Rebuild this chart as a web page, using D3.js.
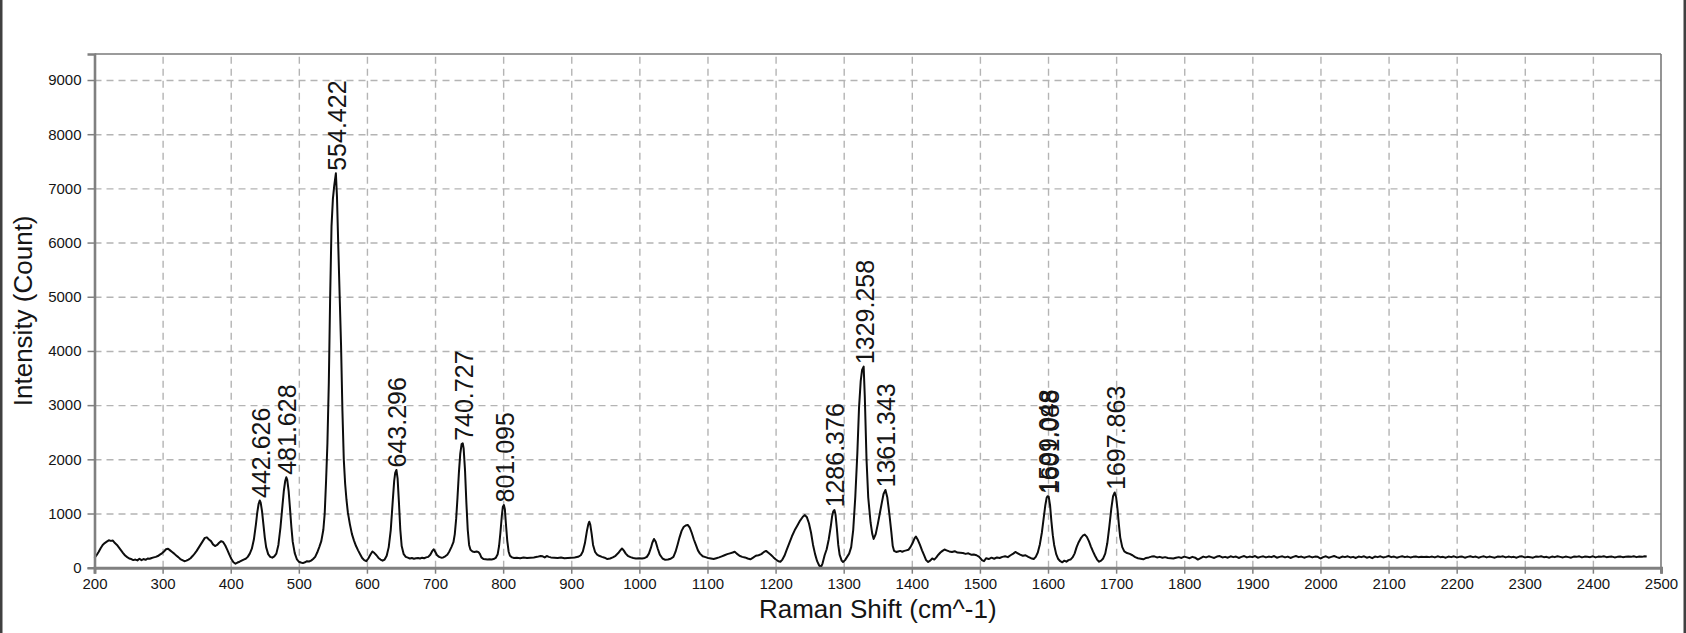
<!DOCTYPE html>
<html>
<head>
<meta charset="utf-8">
<script src="https://cdn.jsdelivr.net/npm/d3@7"></script>
<style>
  html, body { margin: 0; padding: 0; background: #fff; }
  svg { display: block; }
  text { font-family: "Liberation Sans", Arial, sans-serif; fill: #151515; }
</style>
</head>
<body>
<svg id="chart" width="1686" height="633"></svg>
<script>
// ---- Data ----
const xTicks = [200,300,400,500,600,700,800,900,1000,1100,1200,1300,1400,1500,1600,1700,1800,1900,2000,2100,2200,2300,2400,2500];
const yTicks = [0,1000,2000,3000,4000,5000,6000,7000,8000,9000];

const peakShifts    = [442.626, 481.628, 554.422, 643.296, 740.727, 801.095, 1286.376, 1329.258, 1361.343, 1599.048, 1601.088, 1697.863];
const peakIntensity = [1240, 1668, 7278, 1803, 2295, 1157, 1065, 3710, 1434, 1320, 1310, 1388];

// Spectrum: [Raman shift (cm^-1), intensity (count)]
const spectrum = [
[200,180],[203,230],[206,290],[209,360],[212,420],[215,455],[218,480],[221,505],[224,495],[227,500],[230,455],[233,420],[236,370],[239,320],[242,270],[245,225],[248,195],[251,170],[254,160],[257,140],[260,150],[263,135],[266,165],[269,140],[272,160],[275,145],[278,170],[281,165],[284,180],[287,190],[290,200],[293,215],[296,240],[299,265],[302,300],[305,340],[308,350],[311,320],[314,290],[317,260],[320,225],[323,195],[326,160],[329,140],[332,120],[335,130],[338,150],[341,175],[344,215],[347,260],[350,310],[353,370],[356,430],[359,490],[362,550],[365,560],[368,520],[371,490],[374,430],[377,400],[380,420],[383,460],[386,490],[389,470],[392,410],[395,330],[398,240],[401,160],[404,100],[407,75],[410,95],[413,110],[416,130],[419,150],[422,165],[425,200],[428,260],[431,350],
[434,520],[437,800],[439,1020],[441,1180],[442.6,1240],[444,1200],[446,1040],[448,800],[450,560],[452,380],[455,250],[458,200],[461,185],[464,210],[467,260],[470,420],[473,740],[476,1150],[478,1420],[480,1600],[481.6,1668],[483,1620],[485,1420],[487,1100],[489,760],[491,480],[494,270],[497,160],[500,110],[503,95],[506,85],[509,100],[512,120],[515,115],[518,130],[521,160],[524,200],[527,280],[530,380],[533,490],[536,700],[538,1000],[540,1600],[542,2300],[544,3400],[546,5000],[548,6300],[550,6800],[552,7050],[554.4,7278],[556,6850],[558,5900],[560,5000],[562,4100],[564,2900],[566,2000],[568,1550],[570,1250],[572,1020],[575,800],[578,620],[581,500],[584,400],[587,320],[590,250],[593,180],[596,140],[599,120],[602,170],[605,240],[608,300],[611,270],[614,230],[617,180],[620,150],[623,130],[626,150],[629,220],[632,380],[635,700],[638,1250],[640,1600],[641.5,1750],[643.3,1803],[645,1650],[647,1200],[649,700],[651,400],[654,250],[657,200],[660,185],[663,170],[666,180],[669,165],[672,175],[675,180],[678,170],[681,185],[684,175],[687,190],[690,200],[693,240],[696,310],[698,340],[700,300],[703,230],[706,200],[709,185],[712,190],[715,210],[718,240],[721,300],[724,380],[727,470],[729,620],[731,900],[733,1300],[735,1750],[737,2100],[739,2280],[740.7,2295],[742,2200],[744,1800],[746,1200],[748,700],[750,420],[752,330],[755,300],[758,290],[761,300],[764,285],[766,250],[768,190],[771,160],[774,155],[777,150],[780,155],[783,150],[786,160],[789,180],[792,250],[794,400],[796,650],[798,950],[799.5,1120],[801.1,1157],[802.5,1080],[804,820],[806,500],[808,300],[810,220],[813,190],[816,180],
[820,185],[825,175],[830,190],[835,180],[840,185],[845,190],[850,200],[855,215],[858,210],[861,190],[864,215],[867,200],[870,190],[875,185],[880,180],[885,190],[890,175],[895,180],[900,185],[905,190],[910,200],[914,230],[917,300],[920,450],[923,680],[925,800],[926.5,849],[928,790],[930,620],[932,420],[935,290],[938,240],[941,220],[945,200],[949,185],[953,160],[957,170],[961,190],[965,220],[969,270],[972,320],[974.5,355],[977,320],[980,260],[983,220],[987,195],[991,180],[995,170],[1000,175],[1004,170],[1008,180],[1011,200],[1014,260],[1017,370],[1019,460],[1021.5,530],[1024,480],[1027,350],[1030,240],[1034,170],[1038,145],[1042,150],[1046,165],[1050,200],[1053,290],[1056,420],[1059,560],[1062,680],[1065,750],[1068,780],[1071,790],[1074,740],[1077,640],[1080,520],[1083,420],[1086,320],[1089,260],[1093,210],[1097,195],[1101,180],[1105,170],[1109,160],[1113,175],[1117,190],[1121,210],[1125,230],[1129,250],[1133,265],[1137,280],[1140,295],[1143,260],[1147,220],[1151,200],[1155,190],[1159,170],[1163,155],[1167,185],[1171,220],[1175,230],[1179,250],[1183,290],[1186,310],[1189,280],[1193,240],[1197,190],[1200,155],[1204,120],[1207,110],[1210,150],[1213,220],[1216,320],[1220,450],[1224,580],[1228,690],[1232,780],[1236,870],[1240,940],[1243,970],[1246,930],[1249,820],[1252,650],[1255,420],[1258,250],[1261,120],[1264,40],[1266.5,5],[1269,80],[1272,230],[1275,340],[1278,520],[1281,760],[1283,950],[1284.7,1040],[1286.4,1065],[1288,980],[1290,720],[1292,420],[1294,240],[1297,130],[1299,105],[1302,140],[1305,200],[1308,260],[1311,380],[1314,700],[1317,1300],[1320,2100],[1322.5,2950],[1325,3450],[1327,3650],[1329.3,3710],[1331,3150],[1333.5,2000],[1336,1300],[1339.5,830],[1342,620],[1344,530],[1347,620],[1350,800],[1353,1000],[1356,1200],[1358.5,1360],[1361.3,1434],[1364,1300],[1367,1000],[1370,650],[1372,400],[1374,310],[1377,290],[1380,300],[1383,310],[1386,295],[1389,310],[1392,320],[1395,330],[1398,380],[1401,450],[1404,540],[1406,575],[1409,510],[1412,420],[1415,320],[1418,230],[1421,140],[1424,105],[1427,130],[1430,170],[1433,150],[1436,190],[1439,240],[1442,280],[1445,310],[1448,335],[1451,320],[1455,300],[1459,290],[1463,305],[1467,280],[1471,275],[1475,270],[1479,255],[1483,265],[1487,240],[1491,245],[1495,230],[1499,200],[1503,140],[1506,120],[1509,175],[1513,160],[1517,185],[1521,165],[1525,190],[1529,180],[1533,200],[1537,210],[1541,195],[1545,230],[1549,260],[1552,290],[1555,270],[1559,240],[1563,220],[1567,230],[1571,200],[1575,175],[1579,160],[1582,200],[1585,280],[1588,430],[1591,650],[1594,950],[1596,1150],[1598,1290],[1599.3,1320],[1601,1310],[1603,1150],[1605,850],[1607,600],[1609,420],[1612,250],[1615,160],[1618,120],[1621,100],[1624,130],[1627,110],[1630,140],[1633,150],[1636,190],[1639,260],[1642,380],[1645,470],[1648,540],[1651,590],[1654,610],[1657,570],[1660,490],[1663,390],[1666,300],[1669,220],[1672,150],[1675,110],[1678,130],[1681,170],[1684,260],[1687,450],[1690,760],[1693,1100],[1695.5,1320],[1697.9,1388],[1700,1300],[1702,1080],[1704,800],[1706,560],[1709,380],[1712,300],[1716,270],[1720,255],[1724,230],[1728,195],[1732,175],[1736,165],[1740,155],[1744,180],[1748,190],[1752,205],[1756,210],[1760,190],[1764,200],[1768,185],[1772,195],[1776,180],[1780,175],[1784,170],[1788,185],[1792,195],[1796,180],[1800,205],[1804,190],[1808,175],
[1812,200],[1816,185],[1820,150],[1824,175],[1828,205],[1832,190],[1836,210],[1840,195],[1844,180],[1848,205],[1852,215],[1856,190],[1860,200],[1864,185],[1868,210],[1872,195],[1876,205],[1880,180],[1884,200],[1888,215],[1892,190],[1896,205],[1900,195],[1904,215],[1908,185],[1912,200],[1916,210],[1920,190],[1924,205],[1928,195],[1932,215],[1936,185],[1940,200],[1944,210],[1948,190],[1952,205],[1956,180],[1960,200],[1964,215],[1968,195],[1972,205],[1976,185],[1980,200],[1984,210],[1988,190],[1992,205],[1996,200],[2000,170],[2004,195],[2008,210],[2012,185],[2016,200],[2020,215],[2024,195],[2028,180],[2032,205],[2036,195],[2040,210],[2044,190],[2048,200],[2052,180],[2056,205],[2060,195],[2064,210],[2068,185],[2072,200],[2076,175],[2080,205],[2084,195],[2088,210],[2092,190],[2096,200],[2100,215],[2104,195],[2108,205],[2112,185],[2116,200],[2120,210],[2124,195],[2128,205],[2132,190],[2136,200],[2140,205],[2144,195],[2148,200],[2152,198],[2156,202],[2160,195],[2164,205],[2168,190],[2172,210],[2176,195],[2180,200],[2184,185],[2188,205],[2192,195],[2196,210],[2200,190],[2204,200],[2208,205],[2212,185],[2216,200],[2220,210],[2224,195],[2228,205],[2232,185],[2236,200],[2240,210],[2244,190],[2248,205],[2252,195],[2256,185],[2260,205],[2264,200],[2268,210],[2272,190],[2276,205],[2280,195],[2284,200],[2288,185],[2292,205],[2296,210],[2300,190],[2304,200],[2308,195],[2312,185],[2316,205],[2320,200],[2324,210],[2328,195],[2332,200],[2336,185],[2340,205],[2344,195],[2348,210],[2352,200],[2356,190],[2360,205],[2364,195],[2368,185],[2372,205],[2376,200],[2380,210],[2384,190],[2388,205],[2392,200],[2396,195],[2400,210],[2404,190],[2408,205],[2412,200],[2416,210],[2420,195],[2424,200],[2428,205],[2432,190],[2436,200],[2440,205],[2444,195],[2448,200],[2452,205],[2456,200],[2460,210],[2464,195],[2468,205],[2472,200],[2476,210],[2479,205]
];

const xTitle = "Raman Shift (cm^-1)";
const yTitle = "Intensity (Count)";

// ---- Layout ----
const W = 1686, H = 633;
const plot = { left: 94.5, right: 1661, top: 54, bottom: 567.7 };

const svg = d3.select("#chart");
svg.append("rect").attr("width", W).attr("height", H).attr("fill", "#fff");

// page side frame lines
svg.append("rect").attr("x", 0).attr("y", 0).attr("width", 2.5).attr("height", H).attr("fill", "#404040");
svg.append("rect").attr("x", 1683.5).attr("y", 0).attr("width", 2.5).attr("height", H).attr("fill", "#404040");

const x = d3.scaleLinear().domain([200, 2500]).range([plot.left, plot.right]);
const y = d3.scaleLinear().domain([0, 9480]).range([plot.bottom, plot.top]);

// grid
const grid = svg.append("g").attr("class", "grid");
grid.append("g")
  .attr("transform", `translate(0,${plot.bottom})`)
  .call(d3.axisBottom(x).tickValues(xTicks.filter(v => v > 200 && v < 2500)).tickSize(-(plot.bottom - plot.top)).tickFormat(""))
  .call(g => g.select(".domain").remove())
  .call(g => g.selectAll("line").attr("stroke", "#b4b4b4").attr("stroke-width", 1.4).attr("stroke-dasharray", "7,5"));
grid.append("g")
  .attr("transform", `translate(${plot.left},0)`)
  .call(d3.axisLeft(y).tickValues(yTicks.filter(v => v > 0)).tickSize(-(plot.right - plot.left)).tickFormat(""))
  .call(g => g.select(".domain").remove())
  .call(g => g.selectAll("line").attr("stroke", "#b4b4b4").attr("stroke-width", 1.4).attr("stroke-dasharray", "7,5"));

// plot frame: top and right thin
svg.append("line").attr("x1", plot.left).attr("x2", plot.right).attr("y1", plot.top).attr("y2", plot.top)
  .attr("stroke", "#7a7a7a").attr("stroke-width", 1.6);
svg.append("line").attr("x1", plot.right).attr("x2", plot.right).attr("y1", plot.top).attr("y2", plot.bottom)
  .attr("stroke", "#7a7a7a").attr("stroke-width", 1.6);

// spectrum line
const line = d3.line().x(d => x(d[0])).y(d => y(d[1]));
svg.append("path").datum(spectrum)
  .attr("d", line).attr("fill", "none").attr("stroke", "#0d0d0d").attr("stroke-width", 2)
  .attr("stroke-linejoin", "round");

// axes
const xAxis = svg.append("g").attr("transform", `translate(0,${plot.bottom})`)
  .call(d3.axisBottom(x).tickValues(xTicks).tickSize(6).tickPadding(5).tickFormat(d3.format("d")));
xAxis.select(".domain").attr("stroke", "#808080").attr("stroke-width", 3);
xAxis.selectAll(".tick line").attr("stroke", "#808080").attr("stroke-width", 1.5);
xAxis.selectAll("text").style("font-size", "15px").attr("fill", "#151515").style("font-family", "'Liberation Sans', Arial, sans-serif");

const yAxis = svg.append("g").attr("transform", `translate(${plot.left},0)`)
  .call(d3.axisLeft(y).tickValues(yTicks).tickSize(7).tickPadding(6).tickFormat(d3.format("d")));
yAxis.select(".domain").attr("stroke", "#808080").attr("stroke-width", 2.6);
yAxis.selectAll(".tick line").attr("stroke", "#808080").attr("stroke-width", 1.5);
yAxis.selectAll("text").style("font-size", "15px").attr("fill", "#151515").style("font-family", "'Liberation Sans', Arial, sans-serif");

// peak labels
svg.append("g").selectAll("text").data(peakShifts).join("text")
  .attr("transform", (d, i) => `translate(${x(d) + 10},${y(peakIntensity[i]) - 2.5}) rotate(-90)`)
  .attr("text-anchor", "start")
  .style("font-size", "25px")
  .text(d => d.toFixed(3));

// axis titles
svg.append("text").attr("x", (plot.left + plot.right) / 2).attr("y", 618)
  .attr("text-anchor", "middle").style("font-size", "26px").text(xTitle);
svg.append("text").attr("transform", `translate(32,${(plot.top + plot.bottom) / 2}) rotate(-90)`)
  .attr("text-anchor", "middle").style("font-size", "26px").text(yTitle);
</script>
</body>
</html>
